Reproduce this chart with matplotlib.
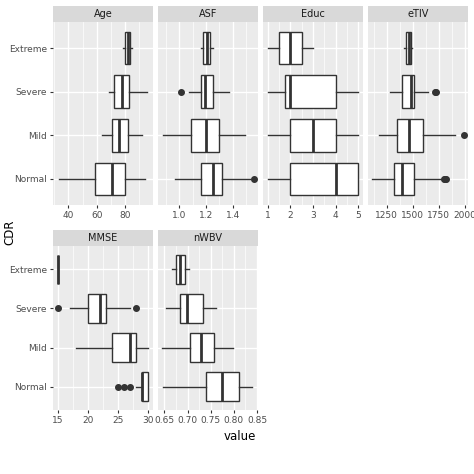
import matplotlib
matplotlib.use("Agg")
import matplotlib.pyplot as plt

levels = ["Normal", "Mild", "Severe", "Extreme"]
variables = ["Age", "ASF", "Educ", "eTIV", "MMSE", "nWBV"]
# per variable, per level (Normal, Mild, Severe, Extreme): whislo, q1, med, q3, whishi, fliers
stats = {
    "Age": [(33, 59, 71, 80, 94, []), (64, 71, 76, 82, 92, []), (69, 72, 78, 83, 96, []), (79, 80, 82, 84, 85, [])],
    "ASF": [(0.97, 1.16, 1.25, 1.32, 1.53, [1.56]), (0.88, 1.09, 1.20, 1.30, 1.49, []),
            (1.07, 1.16, 1.19, 1.25, 1.37, [1.01]), (1.16, 1.18, 1.21, 1.23, 1.25, [])],
    "Educ": [(1, 2, 4, 5, 5, []), (1, 2, 3, 4, 5, []), (1, 1.75, 2, 4, 5, []), (1, 1.5, 2, 2.5, 3, [])],
    "eTIV": [(1110, 1320, 1400, 1510, 1780, [1800, 1810, 1820]), (1180, 1350, 1460, 1600, 1910, [1990]),
             (1280, 1400, 1480, 1510, 1650, [1710, 1725]), (1420, 1430, 1465, 1480, 1490, [])],
    "MMSE": [(28, 29, 29, 30, 30, [25, 26, 27]), (18, 24, 27, 28, 30, []),
             (17, 20, 22, 23, 27, [15, 28]), (15, 15, 15, 15, 15, [])],
    "nWBV": [(0.646, 0.740, 0.774, 0.810, 0.840, []), (0.645, 0.705, 0.728, 0.758, 0.797, []),
             (0.654, 0.683, 0.698, 0.733, 0.762, []), (0.667, 0.675, 0.684, 0.694, 0.703, [])],
}
xlims = {"Age": (29, 100), "ASF": (0.84, 1.59), "Educ": (0.8, 5.2), "eTIV": (1070, 2030),
         "MMSE": (14.2, 30.8), "nWBV": (0.636, 0.852)}
xticks = {"Age": [40, 60, 80], "ASF": [1.0, 1.2, 1.4], "Educ": [1, 2, 3, 4, 5],
          "eTIV": [1250, 1500, 1750, 2000], "MMSE": [15, 20, 25, 30],
          "nWBV": [0.65, 0.70, 0.75, 0.80, 0.85]}
xticklabels = {"nWBV": ["0.65", "0.70", "0.75", "0.80", "0.85"], "ASF": ["1.0", "1.2", "1.4"]}

W = H = 474
fig = plt.figure(figsize=(W / 100, H / 100), dpi=100)
panel_w, gap = 100, 5
x0 = 53
rows = [(22, 205), (246, 410)]
grey = "#EBEBEB"
for i, var in enumerate(variables):
    r, c = divmod(i, 4)
    top, bot = rows[r]
    left = x0 + c * (panel_w + gap)
    ax = fig.add_axes([left / W, 1 - bot / H, panel_w / W, (bot - top) / H])
    sax = fig.add_axes([left / W, 1 - top / H, panel_w / W, 16 / H])
    sax.set_facecolor("#D9D9D9")
    sax.set_xticks([]); sax.set_yticks([])
    for s in sax.spines.values():
        s.set_visible(False)
    sax.text(0.5, 0.5, var, ha="center", va="center", fontsize=7, color="#1A1A1A")
    bx = []
    for lv, st in zip(levels, stats[var]):
        bx.append(dict(whislo=st[0], q1=st[1], med=st[2], q3=st[3], whishi=st[4], fliers=st[5], label=lv))
    ax.set_facecolor(grey)
    ax.bxp(bx, vert=False, positions=[1, 2, 3, 4], widths=0.75, patch_artist=True, showcaps=False,
           boxprops=dict(facecolor="white", edgecolor="#333333", linewidth=1),
           medianprops=dict(color="#333333", linewidth=2),
           whiskerprops=dict(color="#333333", linewidth=1),
           flierprops=dict(marker="o", markerfacecolor="#333333", markeredgecolor="#333333", markersize=4))
    ax.set_xlim(*xlims[var])
    ax.set_ylim(0.4, 4.6)
    ax.set_xticks(xticks[var])
    ax.set_xticklabels(xticklabels.get(var, [str(t) for t in xticks[var]]))
    lo, hi = xlims[var]
    t = xticks[var]; step = t[1] - t[0]
    minors = [t[0] - step / 2 + k * step for k in range(len(t) + 2)]
    ax.set_xticks([m for m in minors if lo < m < hi], minor=True)
    ax.grid(True, which="major", color="white", linewidth=1)
    ax.grid(True, which="minor", axis="x", color="white", linewidth=0.5)
    ax.set_axisbelow(True)
    for s in ax.spines.values():
        s.set_visible(False)
    ax.tick_params(axis="both", which="major", length=2.5, color="#333333", labelsize=6.5, labelcolor="#4D4D4D", pad=2)
    ax.tick_params(axis="x", which="minor", length=0)
    if c == 0:
        ax.set_yticks([1, 2, 3, 4])
        ax.set_yticklabels(levels)
    else:
        ax.tick_params(axis="y", length=0, labelleft=False)

fig.text(240 / W, 1 - 436 / H, "value", ha="center", va="center", fontsize=8.5)
fig.text(10 / W, 1 - 232 / H, "CDR", ha="center", va="center", rotation=90, fontsize=8.5)
fig.savefig("out.png", dpi=100, facecolor="white")
